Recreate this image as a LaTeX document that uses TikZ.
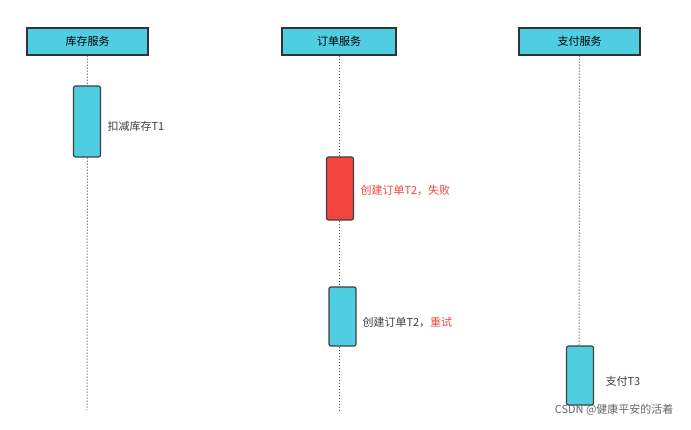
\documentclass[tikz,border=0pt]{standalone}
\usepackage{fontspec}
\setmainfont{Noto Sans CJK SC}
\begin{document}
\begin{tikzpicture}[x=1pt,y=-1pt,
  head/.style={draw=black!80,line width=1.2pt,fill=cyan!60!teal!45!white,fill=headc,minimum width=#1,minimum height=27pt,inner sep=0pt,font=\fontsize{11}{13}\selectfont},
  act/.style={draw=black!75,line width=1.2pt,rounded corners=2pt,minimum width=27pt,inner sep=0pt,fill=headc},
  life/.style={dotted,line width=1pt,black!70},
  lbl/.style={anchor=west,font=\fontsize{11}{13}\selectfont,text=black!75}]
\definecolor{headc}{HTML}{4ECEE0}
\definecolor{redc}{HTML}{F2453D}
\useasboundingbox (0,0) rectangle (691,430);
\fill[white] (0,0) rectangle (691,430);
\node[head=121pt] (h1) at (87.5,41.5) {库存服务};
\node[head=114pt] (h2) at (339,41.5) {订单服务};
\node[head=121pt] (h3) at (579.5,41.5) {支付服务};
\coordinate (e1) at (87,410);
\coordinate (e2) at (339,410);
\coordinate (e3) at (579,410);
\draw[life] (h1.south) -- (e1);
\draw[life] (h2.south) -- (e2);
\draw[life] (h3.south) -- (e3);
\node[act,minimum height=71pt] (a1) at (87,121.5) {};
\node[act,minimum height=63pt,fill=redc] (a2) at (340,188.5) {};
\node[act,minimum height=59pt] (a3) at (342.5,316.5) {};
\node[act,minimum height=59pt] (a4) at (580,375.5) {};
\node[lbl] (t1) at (104,126) {扣减库存T1};
\node[lbl,text=redc] (t2) at (357,190) {创建订单T2，失败};
\node[lbl] (t3) at (359,322) {创建订单T2，\textcolor{redc}{重试}};
\node[lbl] (t4) at (602,381) {支付T3};
\node[anchor=east,font=\fontsize{11}{13}\selectfont,text=black!60] (w) at (677,410) {CSDN @健康平安的活着};
\end{tikzpicture}
\end{document}
